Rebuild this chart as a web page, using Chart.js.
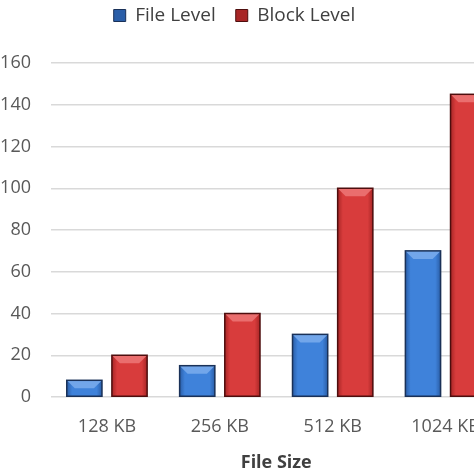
<!DOCTYPE html>
<html>
<head>
<meta charset="utf-8">
<script src="https://cdn.jsdelivr.net/npm/chart.js@4.4.1/dist/chart.umd.min.js"></script>
<style>
  html, body { margin: 0; padding: 0; background: #fff; overflow: hidden; }
  #wrap { position: relative; width: 474px; height: 474px; overflow: hidden; }
  #wrap canvas { position: absolute; left: -33px; top: -14px; }
</style>
</head>
<body>
<div id="wrap"><canvas id="file-size-chart" width="535" height="500"></canvas></div>
<script>
const fileSizes = ['128 KB', '256 KB', '512 KB', '1024 KB'];
const fileLevel = [8, 15, 30, 70];
const blockLevel = [20, 40, 100, 145];
const yTicks = [0, 20, 40, 60, 80, 100, 120, 140, 160];

// excel style bevel colours, one entry per dataset
const tones = [
  { mid: '#3f82da', edge: '#2a5ea8', light: '#72a6ea', border: '#1a3158' },
  { mid: '#d83c3c', edge: '#a82626', light: '#ea6e6e', border: '#4e0e0e' }
];

const bevelBars = {
  id: 'bevelBars',
  afterDatasetsDraw(chart) {
    const c = chart.ctx;
    c.save();
    chart.data.datasets.forEach((ds, i) => {
      const tone = tones[i];
      chart.getDatasetMeta(i).data.forEach(bar => {
        const { x, y, width, base } = bar.getProps(['x', 'y', 'width', 'base'], true);
        const l = x - width / 2, r = x + width / 2, h = base - y;
        const g = c.createLinearGradient(l, 0, r, 0);
        g.addColorStop(0, tone.edge);
        g.addColorStop(0.15, tone.mid);
        g.addColorStop(0.85, tone.mid);
        g.addColorStop(1, tone.edge);
        c.fillStyle = g;
        c.fillRect(l, y, width, h);
        const b = Math.min(8, h / 2);
        c.beginPath();
        c.moveTo(l, y);
        c.lineTo(r, y);
        c.lineTo(r - b, y + b);
        c.lineTo(l + b, y + b);
        c.closePath();
        c.fillStyle = tone.light;
        c.fill();
        c.strokeStyle = tone.border;
        c.lineWidth = 1.5;
        c.strokeRect(l, y, width, h);
      });
    });
    c.restore();
  }
};

// extra room between legend and plot
const legendGap = {
  id: 'legendGap',
  beforeInit(chart) {
    const fit = chart.legend.fit;
    chart.legend.fit = function () {
      fit.bind(chart.legend)();
      this.height += 28;
    };
  }
};

const ctx = document.getElementById('file-size-chart');
const chart = new Chart(ctx, {
  type: 'bar',
  data: {
    labels: fileSizes,
    datasets: [{
      label: 'File Level',
      data: fileLevel,
      backgroundColor: tones[0].edge,
      borderColor: tones[0].border,
      borderWidth: 1
    }, {
      label: 'Block Level',
      data: blockLevel,
      backgroundColor: tones[1].edge,
      borderColor: tones[1].border,
      borderWidth: 1
    }]
  },
  options: {
    responsive: false,
    animation: false,
    devicePixelRatio: 1,
    categoryPercentage: 0.8,
    barPercentage: 0.78,
    layout: { padding: 0 },
    plugins: {
      legend: {
        position: 'top',
        labels: {
          boxWidth: 12,
          boxHeight: 12,
          padding: 20,
          color: '#404040',
          font: { family: 'Open Sans', size: 19 }
        }
      },
      tooltip: { enabled: false }
    },
    scales: {
      x: {
        grid: { display: false, drawTicks: false },
        border: { display: false },
        ticks: { color: '#595959', padding: 19, font: { family: 'Open Sans', size: 18 } },
        title: {
          display: true,
          text: 'File Size',
          color: '#404040',
          padding: { top: 0, bottom: 12 },
          font: { family: 'Open Sans', size: 18, weight: 'bold' }
        },
        afterFit(axis) { axis.height = 89; }
      },
      y: {
        min: yTicks[0],
        max: yTicks[yTicks.length - 1],
        grid: { color: '#d9d9d9', lineWidth: 1.5, drawTicks: false },
        border: { display: false },
        ticks: {
          stepSize: yTicks[1] - yTicks[0],
          color: '#595959',
          padding: 19.5,
          font: { family: 'Open Sans', size: 18 }
        },
        afterFit(axis) { axis.width = 83.5; }
      }
    }
  },
  plugins: [bevelBars, legendGap]
});
</script>
</body>
</html>
